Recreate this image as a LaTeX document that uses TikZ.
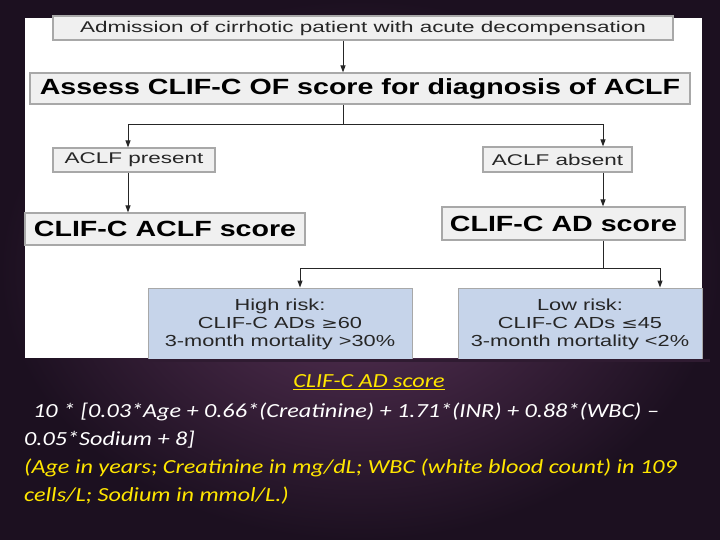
\documentclass[tikz,border=0pt]{standalone}
\usepackage{fontspec}
\usepackage{graphicx}
\setmainfont{Carlito}
\newfontfamily\arial{Liberation Sans}
\newfontfamily\djfont{DejaVu Sans}
\usetikzlibrary{arrows.meta}
\newcommand{\sxa}[1]{\scalebox{1.45}[1]{#1}}
\newcommand{\sxd}[1]{\scalebox{1.36}[1]{#1}}
\newcommand{\sxb}[1]{\scalebox{1.3}[1]{#1}}
\newcommand{\sxc}[1]{\scalebox{1.21}[1]{#1}}
\definecolor{bgin}{HTML}{5A3358}
\definecolor{bgout}{HTML}{1C1020}
\definecolor{boxfill}{HTML}{F0F0F0}
\definecolor{boxline}{HTML}{A8A8A8}
\definecolor{bluefill}{HTML}{C6D4EA}
\definecolor{ylw}{HTML}{FFE600}
\tikzset{
 box/.style={draw=boxline,line width=1.2pt,fill=boxfill,inner sep=0pt,text=black!85,font=\arial\fontsize{15.5}{17}\selectfont},
 bbox/.style={draw=boxline,line width=1.2pt,fill=boxfill,inner sep=0pt,text=black,font=\arial\bfseries\fontsize{22}{24}\selectfont},
 rbox/.style={draw=boxline,line width=1pt,fill=bluefill,inner sep=0pt,font=\arial\fontsize{16}{18}\selectfont,align=center,text=black!85},
 arr/.style={-{Triangle[length=7pt,width=5pt]},line width=1pt,black!85},
 ln/.style={line width=1pt,black!85},
 txt/.style={anchor=west,inner sep=0pt,font=\itshape\fontsize{20}{22}\selectfont}
}
\begin{document}
\begin{tikzpicture}[x=1pt,y=-1pt]
\useasboundingbox (0,0) rectangle (720,540);
\shade[inner color=bgin,outer color=bgout] (0,0) rectangle (720,540);
\fill[white] (25,18) rectangle (702,358);
\node[box,minimum width=620,minimum height=24] (a) at (363,28) {\sxa{Admission of cirrhotic patient with acute decompensation}};
\node[bbox,minimum width=660,minimum height=31] (b) at (360,88.5) {\sxb{Assess CLIF-C OF score for diagnosis of ACLF}};
\node[box,minimum width=162,minimum height=24] (p) at (134,160) {\sxa{ACLF present}};
\node[box,minimum width=149,minimum height=25] (q) at (557.5,159.5) {\sxa{ACLF absent}};
\node[bbox,minimum width=280,minimum height=32] (c) at (165,229) {\sxb{CLIF-C ACLF score}};
\node[bbox,minimum width=243,minimum height=33] (d) at (563.5,223.5) {\sxb{CLIF-C AD score}};
\node[rbox,minimum width=264,minimum height=72] (h) at (280,324) {\sxd{High risk:}\\\sxd{CLIF-C ADs {\djfont\fontsize{14.5}{18}\selectfont≥}60}\\\sxd{3-month mortality >30\%}};
\node[rbox,minimum width=244,minimum height=72] (l) at (580,324) {\sxd{Low risk:}\\\sxd{CLIF-C ADs {\djfont\fontsize{14.5}{18}\selectfont≤}45}\\\sxd{3-month mortality <2\%}};
\fill[bgout!70!bgin] (140,359) rectangle (710,362);
\coordinate (s1) at (343,125);
\coordinate (s2) at (603,268);
\coordinate (xl) at (128,0);
\coordinate (xr) at (603,0);
\coordinate (xh) at (300,0);
\coordinate (xw) at (660,0);
\draw[arr] (a.south -| s1) -- (b.north -| s1);
\draw[ln] (b.south -| s1) -- (s1);
\draw[arr] (s1) -- (s1 -| xl) -- (p.north -| xl);
\draw[arr] (s1) -- (s1 -| xr) -- (q.north -| xr);
\draw[arr] (p.south -| xl) -- (c.north -| xl);
\draw[arr] (q.south -| xr) -- (d.north -| xr);
\draw[ln] (d.south -| s2) -- (s2);
\draw[arr] (s2) -- (s2 -| xh) -- (h.north -| xh);
\draw[arr] (s2) -- (s2 -| xw) -- (l.north -| xw);
\node[txt,anchor=center,text=ylw] (t0) at (369,382) {\sxc{\underline{CLIF-C AD score}}};
\node[txt,text=white] (t1) at (33,412) {\sxc{10 * [0.03*Age + 0.66*(Creatinine) + 1.71*(INR) + 0.88*(WBC) –}};
\node[txt,text=white] (t2) at (24,440) {\sxc{0.05*Sodium + 8]}};
\node[txt,text=ylw] (t3) at (24,468) {\sxc{(Age in years; Creatinine in mg/dL; WBC (white blood count) in 109}};
\node[txt,text=ylw] (t4) at (24,496) {\sxc{cells/L; Sodium in mmol/L.)}};
\end{tikzpicture}
\end{document}
